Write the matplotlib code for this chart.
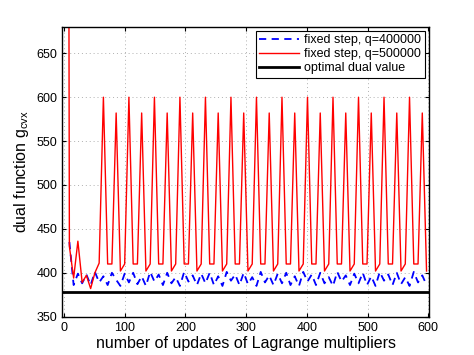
import numpy as np
import matplotlib
matplotlib.use("Agg")
import matplotlib.pyplot as plt

plt.rcParams['font.family'] = ['Liberation Sans', 'DejaVu Sans']
plt.rcParams['mathtext.fontset'] = 'custom'
plt.rcParams['mathtext.rm'] = 'Liberation Sans'
plt.rcParams['mathtext.it'] = 'Liberation Sans'

# iteration index of the sampled points (every 7 updates)
iters = np.arange(2, 600, 7)

red_q500000 = [3000, 430, 394, 436, 389, 397, 382, 400, 411,
               600, 410, 410, 582, 402, 410,
               600, 410, 410, 582, 402, 410,
               600, 410, 410, 582, 402, 410,
               600, 410, 410, 582, 402, 410,
               600, 410, 410, 582, 402, 410,
               600, 410, 410, 582, 402, 410,
               600, 410, 410, 582, 402, 410,
               600, 410, 410, 582, 402, 410,
               600, 410, 410, 582, 402, 410,
               600, 410, 410, 582, 402, 410,
               600, 410, 410, 582, 402, 410,
               600, 410, 410, 582, 402, 410,
               600, 410, 410, 582, 402]

blue_q400000 = [470, 435, 386, 399, 388, 398, 386, 401, 389,
                396, 386, 400, 392, 385, 399,
                389, 400, 387, 396, 385, 401,
                390, 398, 386, 400, 388, 395,
                385, 401, 390, 397, 386, 399,
                388, 400, 386, 396, 385, 401,
                391, 398, 386, 400, 387, 395,
                385, 401, 389, 397, 386, 399,
                388, 400, 386, 396, 385, 401,
                390, 398, 386, 400, 388, 395,
                385, 401, 390, 397, 386, 399,
                388, 400, 386, 396, 385, 401,
                391, 398, 386, 400, 387, 395,
                385, 401, 389, 397, 386]

optimal_dual = 378
x_ticks = [0, 100, 200, 300, 400, 500, 600]
y_ticks = [350, 400, 450, 500, 550, 600, 650]

fig = plt.figure(figsize=(4.74, 3.55), dpi=100)
ax = fig.add_axes([0.131, 0.108, 0.774, 0.816])

bx = iters[1:]
ax.plot(bx, blue_q400000[1:], color='#0000ff', linestyle=(0, (4, 3)), linewidth=1.3,
        label='fixed step, q=400000')
ax.plot(iters, red_q500000, color='#ff0000', linewidth=1.0, label='fixed step, q=500000')
ax.axhline(optimal_dual, color='black', linewidth=2.0, label='optimal dual value')

ax.set_xlim(-3, 601)
ax.set_ylim(350, 680)
ax.set_xticks(x_ticks)
ax.set_yticks(y_ticks)
ax.tick_params(direction='in', top=True, right=True, labelsize=9, length=3)
ax.grid(True, linestyle=(0, (1, 3)), color='#b0b0b0', linewidth=0.7)
for s in ax.spines.values():
    s.set_linewidth(1.0)

ax.set_xlabel('number of updates of Lagrange multipliers', fontsize=11.5, labelpad=2)
ax.set_ylabel('dual function $g_{\\mathrm{cvx}}$', fontsize=11.5, labelpad=4)

leg = ax.legend(loc='upper right', fontsize=9, frameon=True, fancybox=False,
                edgecolor='black', framealpha=1, handlelength=3.2, borderpad=0.3,
                labelspacing=0.15, handletextpad=0.4, borderaxespad=0.3)
leg.get_frame().set_linewidth(0.8)

fig.savefig('out.png', dpi=100)
